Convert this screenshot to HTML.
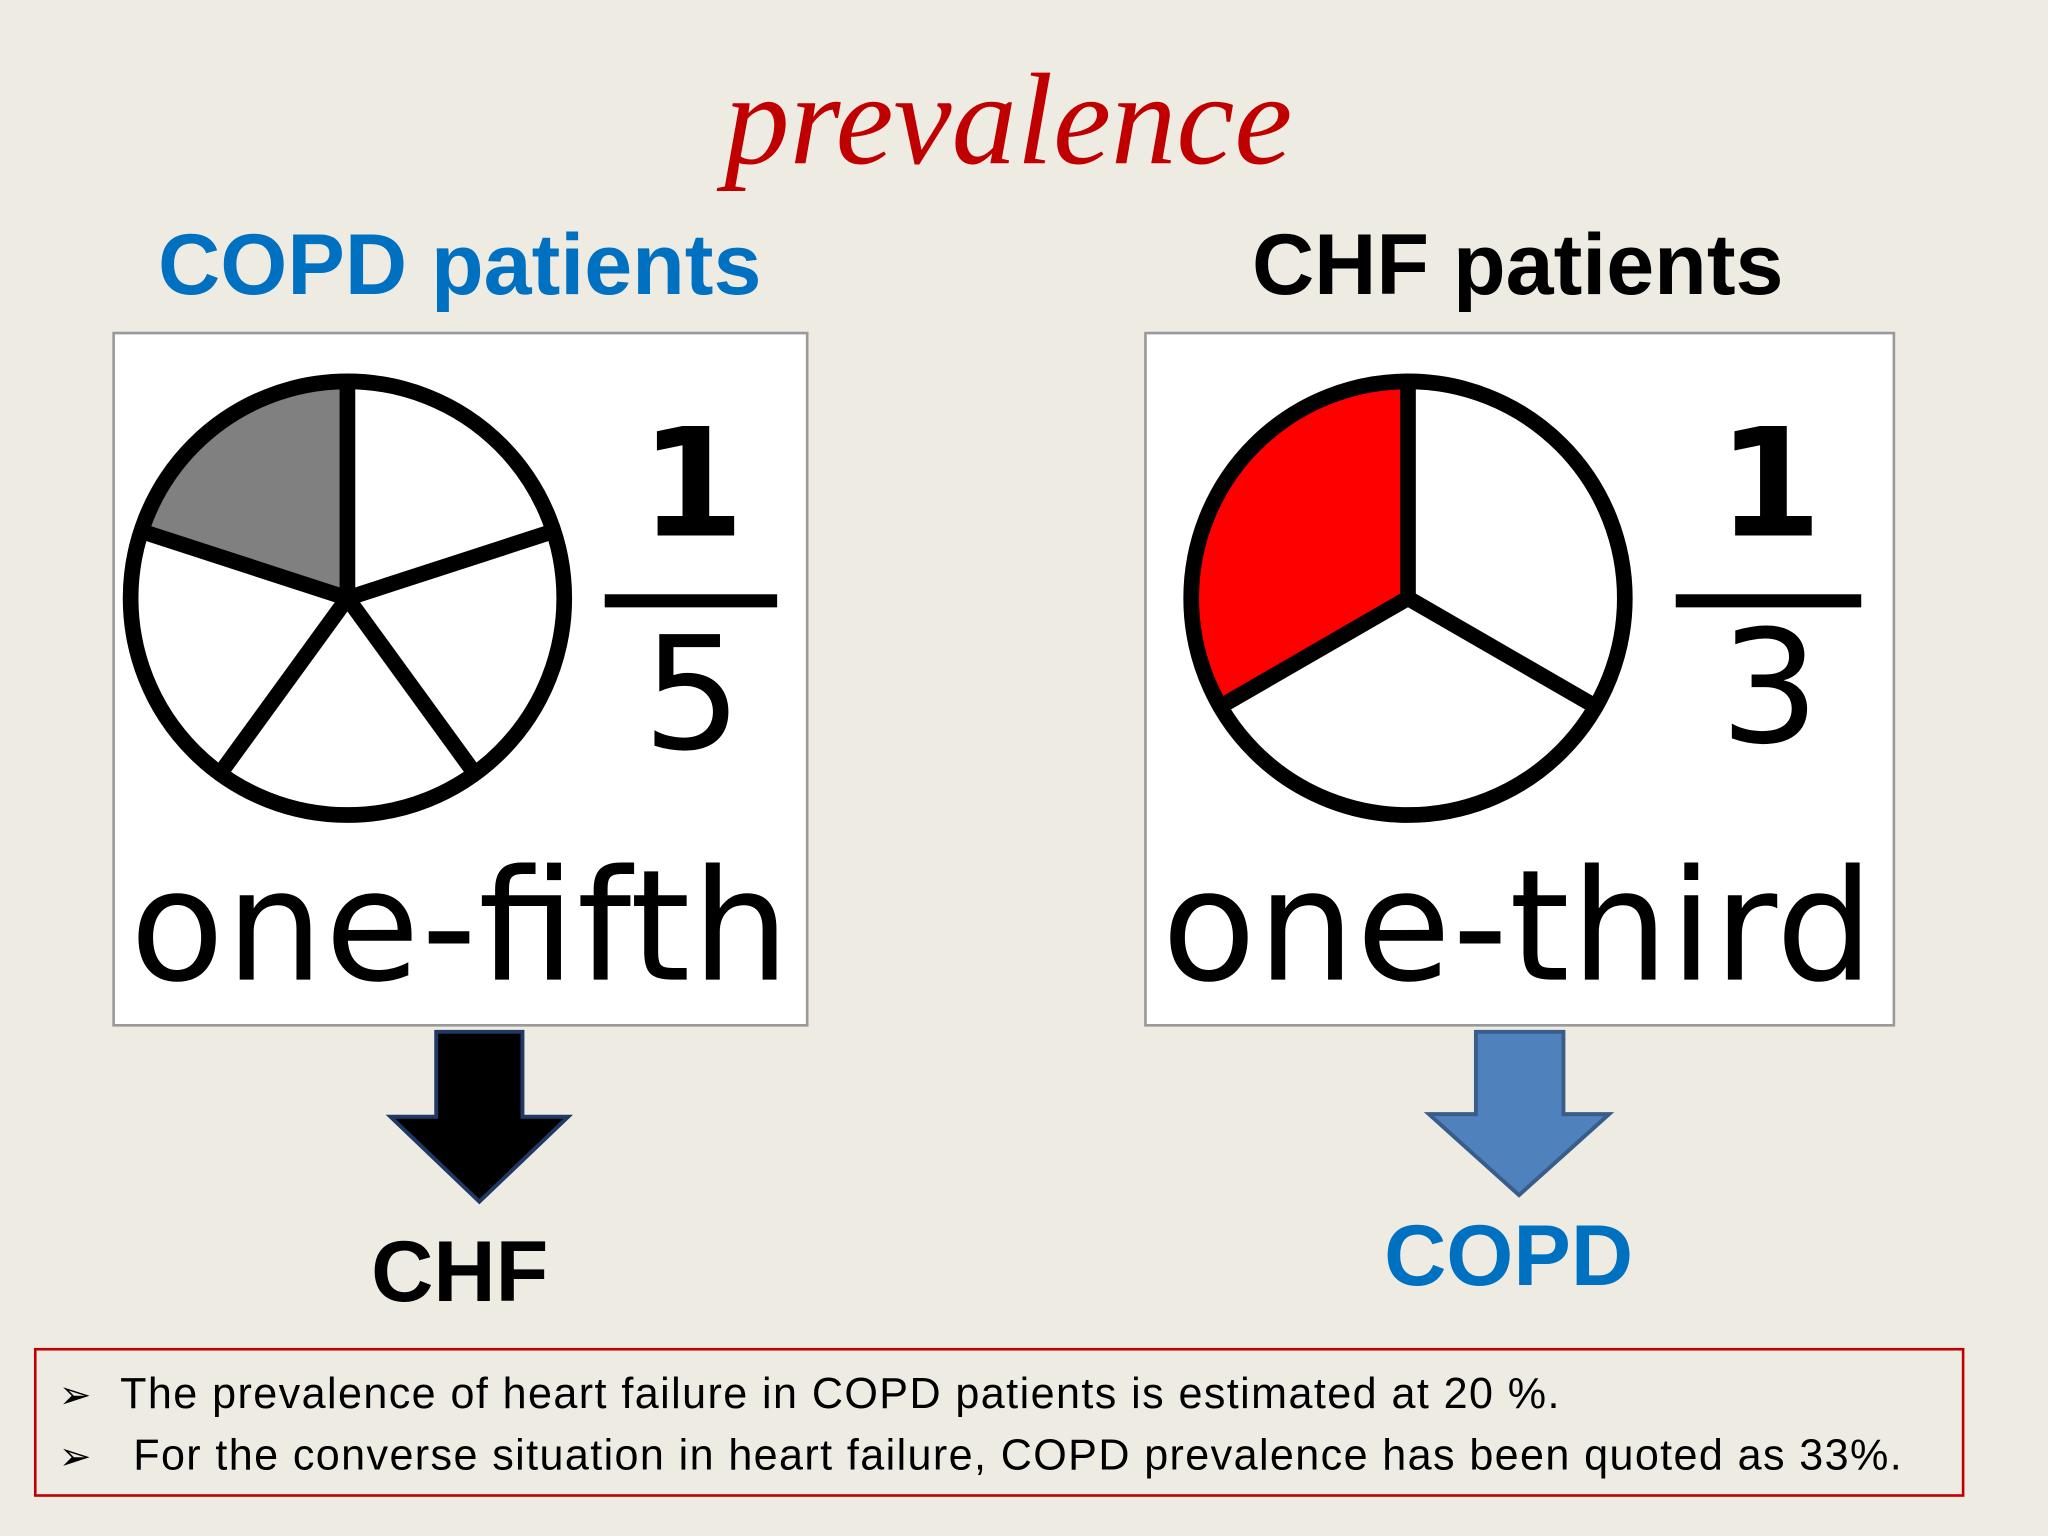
<!DOCTYPE html>
<html><head><meta charset="utf-8"><style>
html,body{margin:0;padding:0;background:#eeebe3;}
svg{display:block;}
</style></head><body>
<svg id="s" width="2048" height="1536" viewBox="0 0 1568 1176">
<rect x="0" y="0" width="1568" height="1176" fill="#eeebe3"/>
<text x="772" y="125" text-anchor="middle" font-family="Liberation Serif, serif" font-style="italic" font-size="100" fill="#c00000">prevalence</text>
<text x="352" y="225" text-anchor="middle" font-family="Liberation Sans, sans-serif" font-weight="bold" font-size="66" fill="#0070c0">COPD patients</text>
<text x="1162" y="225" text-anchor="middle" font-family="Liberation Sans, sans-serif" font-weight="bold" font-size="66" fill="#000">CHF patients</text>
<rect x="87" y="255" width="531" height="530" fill="#fff" stroke="#999" stroke-width="2"/>
<rect x="877" y="255" width="573" height="530" fill="#fff" stroke="#999" stroke-width="2"/>
<g id="pies"></g>
<g font-family="DejaVu Sans, sans-serif" fill="#000">
<text x="530" y="410" text-anchor="middle" font-size="115" font-weight="bold" textLength="62">1</text>
<rect x="463" y="455" width="132" height="10"/>
<text x="530" y="573" text-anchor="middle" font-size="120">5</text>
<text x="352" y="750" text-anchor="middle" font-size="118" textLength="505">one-fifth</text>
<text x="1355" y="410" text-anchor="middle" font-size="115" font-weight="bold" textLength="62">1</text>
<rect x="1283" y="455" width="142" height="10"/>
<text x="1355" y="568" text-anchor="middle" font-size="120">3</text>
<text x="1162" y="750" text-anchor="middle" font-size="118" textLength="545">one-third</text>
</g>
<polygon points="334,790 400,790 400,855 435,855 367,920 299,855 334,855" fill="#000" stroke="#1f3864" stroke-width="3"/>
<polygon points="1130,790 1197,790 1197,853 1232,853 1163,915 1094,853 1130,853" fill="#4f81bd" stroke="#385d8a" stroke-width="3"/>
<text x="352" y="996" text-anchor="middle" font-family="Liberation Sans, sans-serif" font-weight="bold" font-size="66" fill="#000">CHF</text>
<text x="1155" y="984" text-anchor="middle" font-family="Liberation Sans, sans-serif" font-weight="bold" font-size="66" fill="#0070c0">COPD</text>
<rect x="27" y="1033" width="1476" height="112" fill="none" stroke="#c00000" stroke-width="2"/>
<g font-family="Liberation Sans, sans-serif" font-size="33" fill="#000">
<text x="45" y="1078" font-size="30">➢</text>
<text x="92" y="1078" textLength="1102">The prevalence of heart failure in COPD patients is estimated at 20 %.</text>
<text x="45" y="1125" font-size="30">➢</text>
<text x="102" y="1125" textLength="1354">For the converse situation in heart failure, COPD prevalence has been quoted as 33%.</text>
</g>
</svg>
<script>
const pieNames = ["copd-pie", "chf-pie"];
const sliceCounts = [5, 3];
const highlightedSlices = [1, 1];
const highlightColors = ["#808080", "#ff0000"];
const centers = [[266, 458], [1078, 458]];
const radius = 166;
const NS = "http://www.w3.org/2000/svg";
const g = document.getElementById("pies");
function pt(c, a, r){ return [c[0] + r*Math.sin(a), c[1] - r*Math.cos(a)]; }
pieNames.forEach((name, i) => {
  const c = centers[i], n = sliceCounts[i], step = 2*Math.PI/n;
  const grp = document.createElementNS(NS, "g");
  
  
  const bg = document.createElementNS(NS, "circle");
  bg.setAttribute("cx", c[0]); bg.setAttribute("cy", c[1]); bg.setAttribute("r", radius);
  bg.setAttribute("fill", "#fff");
  grp.appendChild(bg);
  for (let k = 0; k < highlightedSlices[i]; k++) {
    const a0 = -step*(k+1), a1 = -step*k;
    const p0 = pt(c, a0, radius), p1 = pt(c, a1, radius);
    const p = document.createElementNS(NS, "path");
    p.setAttribute("d", `M${c[0]},${c[1]} L${p0[0]},${p0[1]} A${radius},${radius} 0 0 1 ${p1[0]},${p1[1]} Z`);
    p.setAttribute("fill", highlightColors[i]);
    
    
    grp.appendChild(p);
  }
  for (let k = 0; k < n; k++) {
    const e = pt(c, step*k, radius);
    const l = document.createElementNS(NS, "line");
    l.setAttribute("x1", c[0]); l.setAttribute("y1", c[1]);
    l.setAttribute("x2", e[0]); l.setAttribute("y2", e[1]);
    l.setAttribute("stroke", "#000"); l.setAttribute("stroke-width", "12");
    
    
    grp.appendChild(l);
  }
  const ring = document.createElementNS(NS, "circle");
  ring.setAttribute("cx", c[0]); ring.setAttribute("cy", c[1]); ring.setAttribute("r", radius);
  ring.setAttribute("fill", "none"); ring.setAttribute("stroke", "#000"); ring.setAttribute("stroke-width", "12");
  
  
  grp.appendChild(ring);
  g.appendChild(grp);
});
</script>
</body></html>
